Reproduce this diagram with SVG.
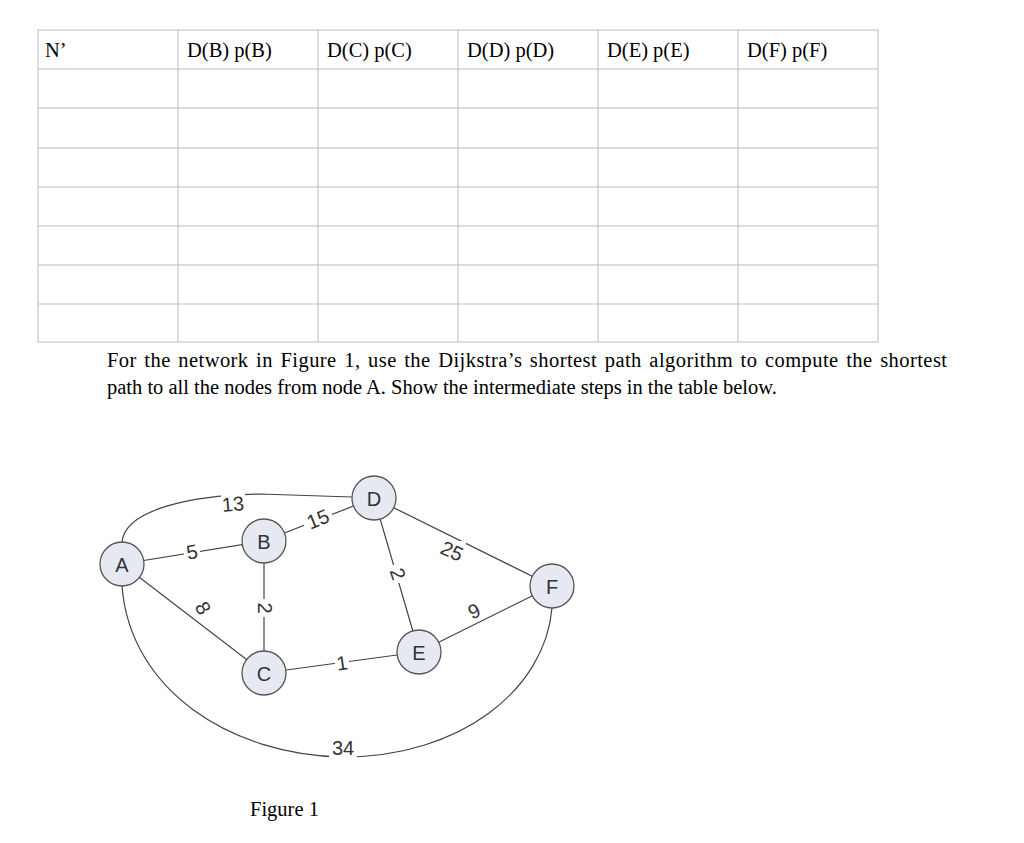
<svg xmlns="http://www.w3.org/2000/svg" width="1024" height="843" viewBox="0 0 1024 843">
<style>
.g{stroke:#bbb;stroke-width:1;fill:none}
.h{font-family:"Liberation Serif",serif;font-size:20.5px;fill:#000}
.e{stroke:#444;stroke-width:1.2;fill:none}
.n circle{fill:#e6e9f2;stroke:#555;stroke-width:1.3}
.n text,.l{font-family:"Liberation Sans",sans-serif;font-size:20px;fill:#333;text-anchor:middle;dominant-baseline:central}
.l{font-size:20px}
</style>
<rect width="1024" height="843" fill="#fff"/>
<g id="table">
<rect class="g" x="38" y="30" width="840" height="312"/>
<path class="g" d="M178 30V342M318 30V342M458 30V342M598 30V342M738 30V342M38 69H878M38 108H878M38 148H878M38 187H878M38 226H878M38 265H878M38 304H878"/>
<text class="h" x="45" y="57">N’</text>
<text class="h" x="187" y="57">D(B) p(B)</text>
<text class="h" x="327" y="57">D(C) p(C)</text>
<text class="h" x="467" y="57">D(D) p(D)</text>
<text class="h" x="607" y="57">D(E) p(E)</text>
<text class="h" x="747" y="57">D(F) p(F)</text>
</g>
<text class="h" x="107" y="367" textLength="840" lengthAdjust="spacing" word-spacing="2">For the network in Figure 1, use the Dijkstra’s shortest path algorithm to compute the shortest</text>
<text class="h" x="107" y="394">path to all the nodes from node A.  Show the intermediate steps in the table below.</text>
<g id="edges">
<path class="e" d="M122 542C125 510 190 495 260 494L352 497"/>
<path class="e" d="M122 586C130 690 230 755 343 757C460 757 545 690 552 608"/>
<path class="e" d="M122 564L264 541M122 564L264 673M264 541L264 673M264 541L374 498M374 498L419 652M374 498L552 586M264 673L419 652M419 652L552 586"/>
</g>
<g id="labels">
<g fill="#fff"><rect x="221" y="494" width="24" height="20"/><rect x="184" y="543" width="16" height="18"/><rect x="304" y="509" width="28" height="20"/><rect x="255" y="599" width="18" height="18"/><rect x="195" y="599" width="16" height="18"/><rect x="390" y="565" width="16" height="18"/><rect x="438" y="541" width="28" height="20"/><rect x="466" y="602" width="16" height="18"/><rect x="335" y="654" width="14" height="18"/><rect x="329" y="739" width="28" height="20"/></g>
<text class="l" x="233" y="504" transform="rotate(-5 233 504)">13</text>
<text class="l" x="192" y="552" transform="rotate(-10 192 552)">5</text>
<text class="l" x="318" y="519" transform="rotate(-22 318 519)">15</text>
<text class="l" x="203" y="608" transform="rotate(60 203 608)">8</text>
<text class="l" x="265" y="608" transform="rotate(90 265 608)">2</text>
<text class="l" x="398" y="574" transform="rotate(72 398 574)">2</text>
<text class="l" x="452" y="551" transform="rotate(25 452 551)">25</text>
<text class="l" x="474" y="611" transform="rotate(-25 474 611)">9</text>
<text class="l" x="342" y="663" transform="rotate(-8 342 663)">1</text>
<text class="l" x="343" y="748">34</text>
</g>
<g id="A" class="n"><circle cx="122" cy="564" r="22"/><text x="122" y="565">A</text></g>
<g id="B" class="n"><circle cx="264" cy="541" r="22"/><text x="264" y="542">B</text></g>
<g id="C" class="n"><circle cx="264" cy="673" r="22"/><text x="264" y="674">C</text></g>
<g id="D" class="n"><circle cx="374" cy="498" r="22"/><text x="374" y="499">D</text></g>
<g id="E" class="n"><circle cx="419" cy="652" r="22"/><text x="419" y="653">E</text></g>
<g id="F" class="n"><circle cx="552" cy="586" r="22"/><text x="552" y="587">F</text></g>
<text class="h" x="250" y="816">Figure 1</text>
</svg>
